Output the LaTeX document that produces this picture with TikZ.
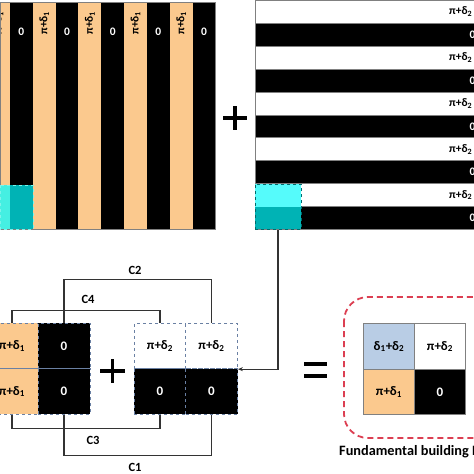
\documentclass[tikz,border=0pt]{standalone}
\usepackage{fontspec}
\setmainfont{Carlito}
\usetikzlibrary{arrows.meta}
\definecolor{orng}{HTML}{FBC98E}
\definecolor{lblue}{HTML}{B9CDE5}
\definecolor{cyanA}{HTML}{45EFE2}
\definecolor{cyanB}{HTML}{55FBFB}
\definecolor{tealc}{HTML}{00B3B5}
\definecolor{dashc}{HTML}{6A80A3}
\definecolor{redd}{HTML}{DC3F52}
\definecolor{linec}{HTML}{333333}
\begin{document}
\begin{tikzpicture}[x=1pt,y=-1pt,
  stxt/.style={font=\bfseries\fontsize{11.5}{13}\selectfont, inner sep=0pt},
  clab/.style={font=\bfseries\fontsize{12.5}{14}\selectfont, inner sep=0pt},
  cellbox/.style={minimum width=52pt, minimum height=45.5pt, inner sep=0pt, draw=dashc, dashed, line width=0.8pt, font=\bfseries\fontsize{13}{15}\selectfont},
  fcell/.style={minimum width=51pt, minimum height=45.5pt, inner sep=0pt, draw=gray, line width=0.8pt, font=\bfseries\fontsize{13}{15}\selectfont},
  conn/.style={draw=linec, line width=1.1pt},
  sign/.style={line width=3.8pt}
]
\useasboundingbox (0,0) rectangle (474,474);
\fill[white] (0,0) rectangle (474,474);
\clip (0,0) rectangle (474,474);

% ---- left striped panel
\fill[orng] (0,2.5) rectangle (215,229);
\foreach \i in {0,...,4} {
  \fill[black] ({10+45.7*\i},2.5) rectangle ({32.6+45.7*\i},229);
  \node[stxt, rotate=90, text=black] (lp\i) at ({-1.5+45.7*\i},23) {π+δ\textsubscript{1}};
  \node[stxt, text=white] (lz\i) at ({21.3+45.7*\i},32) {0};
}
\draw[gray, line width=0.6pt] (0,2.5) rectangle (215,229);
\fill[cyanA] (0,185) rectangle (10,229);
\fill[tealc] (10,185) rectangle (33,229);
\draw[cyanA!70!white, dashed, line width=1pt] (0,185) rectangle (33,229);

% ---- right striped panel
\foreach \i in {0,...,4} {
  \fill[black] (255,{0.5+22.88*(2*\i+1)}) rectangle (480,{0.5+22.88*(2*\i+2)});
  \node[stxt, anchor=west, text=black] (rw\i) at (449,{0.5+22.88*(2*\i+0.5)}) {π+δ\textsubscript{2}};
  \node[stxt, anchor=west, text=white] (rz\i) at (469.5,{0.5+22.88*(2*\i+1.5)}) {0};
}
\foreach \i in {0,...,10} {
  \draw[gray, line width=0.6pt] (255,{0.5+22.88*\i}) -- (480,{0.5+22.88*\i});
}
\draw[gray, line width=0.6pt] (255,0.5) -- (255,229.3);
\fill[cyanB] (255,184) rectangle (301,206.6);
\fill[tealc] (255,206.6) rectangle (301,229.3);
\node[draw=tealc!60!black, dashed, line width=1pt, minimum width=46pt, minimum height=45.3pt, inner sep=0pt] (rcyan) at (278,206.65) {};

% plus between panels
\draw[sign] (223,118) -- (247,118);
\draw[sign] (235,106) -- (235,130);

% ---- bottom left block
\node[cellbox, fill=orng] (lTL) at (12,346) {π+δ\textsubscript{1}};
\node[cellbox, fill=black, text=white] (lTR) at (64,346) {0};
\node[cellbox, fill=orng] (lBL) at (12,391.5) {π+δ\textsubscript{1}};
\node[cellbox, fill=black, text=white] (lBR) at (64,391.5) {0};

% plus
\draw[sign] (100,371) -- (125,371);
\draw[sign] (112.5,359) -- (112.5,383);

% ---- bottom right block
\node[cellbox, fill=white] (rTL) at (160,346) {π+δ\textsubscript{2}};
\node[cellbox, fill=white] (rTR) at (211.5,346) {π+δ\textsubscript{2}};
\node[cellbox, fill=black, text=white] (rBL) at (160,391.5) {0};
\node[cellbox, fill=black, text=white] (rBR) at (211.5,391.5) {0};

% connectors
\draw[conn] (lTL.north) -- ([yshift=12pt]lTL.north) -| (rTL.north);
\draw[conn] (lTR.north) -- ([yshift=43pt]lTR.north) -| (rTR.north);
\draw[conn] (lBL.south) -- ([yshift=-14pt]lBL.south) -| (rBL.south);
\draw[conn] (lBR.south) -- ([yshift=-41pt]lBR.south) -| (rBR.south);
\node[clab] (c2) at (135,270) {C2};
\node[clab] (c4) at (88,299) {C4};
\node[clab] (c3) at (93,440) {C3};
\node[clab] (c1) at (135,467) {C1};
\draw[conn, -{Stealth[length=5pt,width=4pt]}] (rcyan.south) |- (rTR.south east);

% equals
\draw[sign] (304,364) -- (327,364);
\draw[sign] (304,376) -- (327,376);

% ---- fundamental building block
\draw[redd, dashed, dash pattern=on 6pt off 4pt, line width=1.8pt, rounded corners=24pt] (344,297) rectangle (500,438);
\node[fcell, fill=lblue] (fTL) at (389,346.5) {δ\textsubscript{1}+δ\textsubscript{2}};
\node[fcell, fill=white] (fTR) at (440,346.5) {π+δ\textsubscript{2}};
\node[fcell, fill=orng] (fBL) at (389,392) {π+δ\textsubscript{1}};
\node[fcell, fill=black, text=white] (fBR) at (440,392) {0};
\node[font=\bfseries\fontsize{14.3}{16}\selectfont, anchor=west, inner sep=0pt] (flab) at (339,452) {Fundamental building Block};
\end{tikzpicture}
\end{document}
